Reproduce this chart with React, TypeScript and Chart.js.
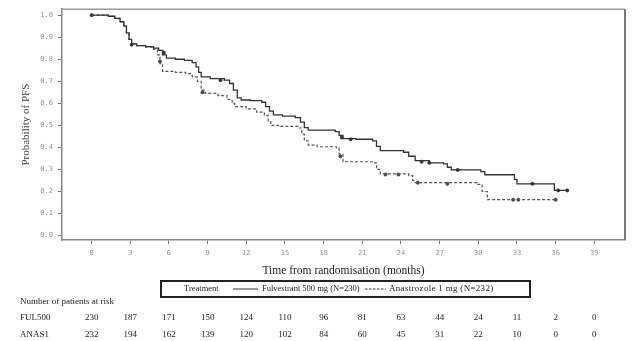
import { useEffect, useRef } from "react";
import { Chart, registerables } from "chart.js";

Chart.register(...registerables);

// ---- data ----
const timeTicks = [0, 3, 6, 9, 12, 15, 18, 21, 24, 27, 30, 33, 36, 39];
const probTicks = [0, 0.1, 0.2, 0.3, 0.4, 0.5, 0.6, 0.7, 0.8, 0.9, 1.0];

const seriesNames = ["Fulvestrant 500 mg (N=230)", "Anastrozole 1 mg (N=232)"];
const groupLabels = ["FUL500", "ANAS1"];

// Fulvestrant 500 mg KM step points (months, survival)
const fulTimes = [0, 1.3, 1.8, 2.2, 2.5, 2.7, 2.9, 3.1, 3.5, 4.2, 4.8, 5.2, 5.5, 5.8, 6.5, 7.2, 7.8, 8.1, 8.3, 8.5, 9.2, 10.3, 10.7, 11.0, 11.3, 11.6, 12.3, 13.2, 13.5, 13.8, 14.1, 14.8, 15.8, 16.2, 16.5, 16.8, 18.9, 19.2, 19.5, 20.5, 21.8, 22.1, 22.4, 24.2, 24.6, 25.1, 26.2, 27.3, 27.6, 27.9, 30.2, 30.5, 32.8, 33.0, 35.9, 36.9];
const fulSurv = [1.0, 0.995, 0.985, 0.97, 0.95, 0.92, 0.89, 0.87, 0.862, 0.857, 0.85, 0.84, 0.82, 0.805, 0.8, 0.795, 0.785, 0.765, 0.74, 0.72, 0.712, 0.705, 0.69, 0.66, 0.625, 0.615, 0.612, 0.605, 0.585, 0.565, 0.548, 0.542, 0.535, 0.515, 0.49, 0.478, 0.472, 0.455, 0.44, 0.437, 0.43, 0.405, 0.385, 0.378, 0.36, 0.34, 0.33, 0.325, 0.31, 0.298, 0.29, 0.276, 0.255, 0.235, 0.205, 0.205];

// Anastrozole 1 mg KM step points
const anaTimes = [0, 1.3, 1.8, 2.2, 2.5, 2.7, 2.9, 3.1, 3.5, 4.2, 4.8, 5.1, 5.3, 5.5, 6.5, 7.3, 7.8, 8.2, 8.5, 8.8, 9.8, 10.5, 10.9, 11.1, 12.0, 12.8, 13.4, 13.7, 13.9, 14.5, 16.0, 16.3, 16.5, 16.8, 17.5, 19.0, 19.2, 19.5, 21.8, 22.1, 22.4, 24.6, 24.9, 25.1, 29.9, 30.3, 30.7, 36.0];
const anaSurv = [1.0, 0.995, 0.985, 0.97, 0.95, 0.92, 0.89, 0.87, 0.862, 0.855, 0.845, 0.82, 0.78, 0.745, 0.74, 0.735, 0.72, 0.7, 0.66, 0.645, 0.635, 0.618, 0.6, 0.585, 0.575, 0.56, 0.545, 0.52, 0.5, 0.495, 0.488, 0.46, 0.43, 0.41, 0.403, 0.398, 0.37, 0.335, 0.33, 0.3, 0.28, 0.272, 0.25, 0.24, 0.232, 0.2, 0.163, 0.163];

// censoring marks
const fulCensorTimes = [0, 3.1, 5.6, 10.0, 19.4, 20.1, 25.6, 26.2, 28.4, 34.2, 36.2, 36.9];
const fulCensorSurv = [1.0, 0.866, 0.83, 0.705, 0.445, 0.437, 0.335, 0.33, 0.298, 0.235, 0.205, 0.205];
const anaCensorTimes = [5.3, 8.6, 19.3, 22.8, 23.8, 25.3, 27.6, 32.7, 33.1, 36.0];
const anaCensorSurv = [0.79, 0.65, 0.36, 0.277, 0.277, 0.24, 0.235, 0.163, 0.163, 0.163];

// numbers at risk
const atRiskFul = [230, 187, 171, 150, 124, 110, 96, 81, 63, 44, 24, 11, 2, 0];
const atRiskAna = [232, 194, 162, 139, 120, 102, 84, 60, 45, 31, 22, 10, 0, 0];

const toXY = (ts: number[], ss: number[]) => ts.map((t, i) => ({ x: t, y: ss[i] }));

const SERIF = '"Liberation Serif", "Times New Roman", serif';
const MONO = '"DejaVu Sans Mono", monospace';

const decorPlugin = {
  id: "decor",
  afterDraw(chart: any) {
    const { ctx, chartArea } = chart;
    const xs = chart.scales.x;
    ctx.save();
    // frame: top and right
    ctx.strokeStyle = "#9a9a9a";
    ctx.lineWidth = 1.5;
    ctx.beginPath();
    ctx.moveTo(chartArea.left, chartArea.top);
    ctx.lineTo(chartArea.right, chartArea.top);
    ctx.stroke();
    ctx.strokeStyle = "#777";
    ctx.lineWidth = 2;
    ctx.beginPath();
    ctx.moveTo(chartArea.right, chartArea.top);
    ctx.lineTo(chartArea.right, chartArea.bottom);
    ctx.stroke();

    // legend box
    ctx.strokeStyle = "#222";
    ctx.lineWidth = 2;
    ctx.strokeRect(161, 281, 369, 16);
    ctx.fillStyle = "#222";
    ctx.font = `8.5px ${SERIF}`;
    ctx.textBaseline = "middle";
    ctx.textAlign = "left";
    ctx.fillText("Treatment", 184, 289);
    ctx.lineWidth = 1;
    ctx.strokeStyle = "#333";
    ctx.beginPath();
    ctx.moveTo(233, 289);
    ctx.lineTo(258, 289);
    ctx.stroke();
    ctx.fillText(seriesNames[0], 262, 289);
    ctx.setLineDash([2.5, 1.5]);
    ctx.beginPath();
    ctx.moveTo(365, 289);
    ctx.lineTo(386, 289);
    ctx.stroke();
    ctx.setLineDash([]);
    ctx.font = `9px ${SERIF}`;
    (ctx as any).letterSpacing = "0.3px";
    ctx.fillText(seriesNames[1], 389, 289);
    (ctx as any).letterSpacing = "0px";

    // numbers at risk
    ctx.font = `9px ${SERIF}`;
    ctx.fillText("Number of patients at risk", 20, 302);
    ctx.fillText(groupLabels[0], 20, 318);
    ctx.fillText(groupLabels[1], 20, 335);
    ctx.textAlign = "center";
    timeTicks.forEach((t, i) => {
      const px = xs.getPixelForValue(t);
      ctx.fillText(String(atRiskFul[i]), px, 318);
      ctx.fillText(String(atRiskAna[i]), px, 335);
    });
    ctx.restore();
  },
};

export default function App() {
  const ref = useRef<HTMLCanvasElement | null>(null);
  useEffect(() => {
    document.body.style.margin = "0";
    document.body.style.background = "#fff";
    const canvas = ref.current;
    if (!canvas) return;
    const chart = new Chart(canvas, {
      type: "line",
      data: {
        datasets: [
          {
            label: seriesNames[0],
            data: toXY(fulTimes, fulSurv),
            borderColor: "#333",
            borderWidth: 1.3,
            stepped: true,
            pointRadius: 0,
            fill: false,
          },
          {
            label: seriesNames[1],
            data: toXY(anaTimes, anaSurv),
            borderColor: "#555",
            borderWidth: 1.2,
            borderDash: [3, 2],
            stepped: true,
            pointRadius: 0,
            fill: false,
          },
          {
            label: "cens1",
            data: toXY(fulCensorTimes, fulCensorSurv),
            showLine: false,
            pointRadius: 1.5,
            pointBackgroundColor: "#333",
            pointBorderColor: "#333",
          },
          {
            label: "cens2",
            data: toXY(anaCensorTimes, anaCensorSurv),
            showLine: false,
            pointRadius: 1.5,
            pointBackgroundColor: "#444",
            pointBorderColor: "#444",
          },
        ],
      },
      options: {
        animation: false,
        responsive: false,
        devicePixelRatio: 1,
        layout: { padding: { left: 18, top: 8, right: 18, bottom: 61 } },
        plugins: { legend: { display: false }, tooltip: { enabled: false } },
        scales: {
          x: {
            type: "linear",
            min: -2.3,
            max: 41.38,
            afterBuildTicks: (s: any) => {
              s.ticks = timeTicks.map((v) => ({ value: v }));
            },
            afterFit: (s: any) => {
              s.height = 40;
            },
            grid: { drawOnChartArea: false, drawTicks: true, tickLength: 4, color: "#777" },
            border: { display: true, color: "#888", width: 1.5 },
            ticks: {
              font: { family: MONO, size: 7 },
              color: "#8a90a8",
              padding: 5,
              maxRotation: 0,
              autoSkip: false,
              callback: (v: any) => String(v),
            },
            title: {
              display: true,
              text: "Time from randomisation (months)",
              font: { family: SERIF, size: 11.5 },
              color: "#222",
              padding: { top: 2, bottom: 2 },
            },
          },
          y: {
            type: "linear",
            min: -0.02,
            max: 1.027,
            afterBuildTicks: (s: any) => {
              s.ticks = probTicks.map((v) => ({ value: v }));
            },
            afterFit: (s: any) => {
              s.width = 44;
            },
            grid: { drawOnChartArea: false, drawTicks: true, tickLength: 4, color: "#777" },
            border: { display: true, color: "#888", width: 1.5 },
            ticks: {
              font: { family: MONO, size: 7 },
              color: "#8a90a8",
              padding: 5,
              autoSkip: false,
              callback: (v: any) => Number(v).toFixed(1),
            },
            title: {
              display: true,
              text: "Probability of PFS",
              font: { family: SERIF, size: 11 },
              color: "#444",
              padding: { top: 2, bottom: 0 },
            },
          },
        },
      },
      plugins: [decorPlugin],
    });
    return () => chart.destroy();
  }, []);
  return <canvas ref={ref} width={643} height={341} style={{ display: "block" }} />;
}
